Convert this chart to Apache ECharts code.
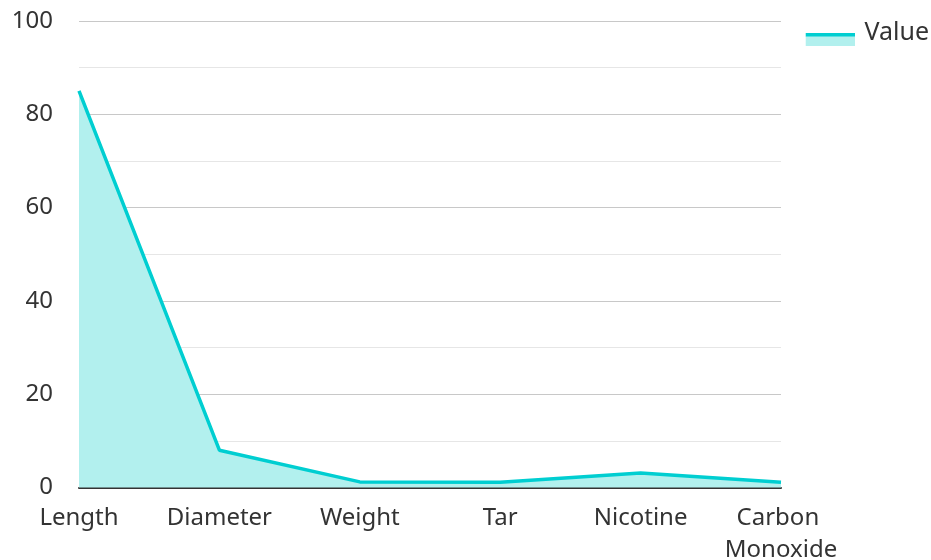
<!DOCTYPE html>
<html>
<head>
<meta charset="utf-8">
<script src="https://cdn.jsdelivr.net/npm/echarts@6/dist/echarts.min.js"></script>
<style>
  html, body { margin: 0; padding: 0; background: #ffffff; }
  #chart { width: 931px; height: 560px; }
</style>
</head>
<body>
<div id="chart"></div>
<script>
// Cigarette measurements
const categories = ['Length', 'Diameter', 'Weight', 'Tar', 'Nicotine', 'Carbon Monoxide'];
const values = [85, 8, 1.2, 1.1, 3.1, 1.1];
const seriesName = 'Value';

const LINE_COLOR = '#00CED1';
const AREA_COLOR = '#B2F0EE';
const FONT = '"Noto Sans", "Open Sans", sans-serif';

// Legend swatch: a filled band with the line drawn along its top edge
const legendSvg =
  '<svg xmlns="http://www.w3.org/2000/svg" width="50" height="28" viewBox="0 0 50 28">' +
  '<rect x="0" y="17" width="50" height="10" fill="' + AREA_COLOR + '"/>' +
  '<rect x="0" y="14" width="50" height="3.5" fill="' + LINE_COLOR + '"/>' +
  '</svg>';
const legendIcon = 'image://data:image/svg+xml;charset=utf-8,' + encodeURIComponent(legendSvg);

const chart = echarts.init(document.getElementById('chart'));

chart.setOption({
  animation: false,
  textStyle: { fontFamily: FONT },
  legend: {
    data: [{ name: seriesName, icon: legendIcon }],
    right: -3,
    top: 14,
    itemWidth: 50,
    itemHeight: 28,
    textStyle: { fontSize: 25, color: '#333', fontFamily: FONT, padding: [0, 0, 0, 4] }
  },
  grid: { left: 79, right: 150, top: 21, bottom: 72.5, containLabel: false, outerBoundsMode: 'none' },
  xAxis: {
    type: 'category',
    data: categories,
    boundaryGap: false,
    axisLine: { lineStyle: { color: '#333', width: 2 } },
    axisTick: { show: false },
    axisLabel: {
      interval: 0,
      fontSize: 24,
      color: '#333',
      fontFamily: FONT,
      margin: 15,
      width: 130,
      overflow: 'break',
      lineHeight: 32
    }
  },
  yAxis: {
    type: 'value',
    min: 0,
    max: 100,
    interval: 20,
    axisLine: { show: false },
    axisTick: { show: false },
    axisLabel: { fontSize: 24, color: '#333', fontFamily: FONT, margin: 26 },
    splitLine: { lineStyle: { color: '#c8c8c8', width: 1 } },
    minorTick: { show: false, splitNumber: 2 },
    minorSplitLine: { show: true, lineStyle: { color: '#e6e6e6', width: 1 } }
  },
  series: [{
    name: seriesName,
    type: 'line',
    data: values,
    showSymbol: false,
    symbol: 'none',
    lineStyle: { color: LINE_COLOR, width: 3.5 },
    itemStyle: { color: LINE_COLOR },
    areaStyle: { color: AREA_COLOR, opacity: 1 }
  }]
});
</script>
</body>
</html>
